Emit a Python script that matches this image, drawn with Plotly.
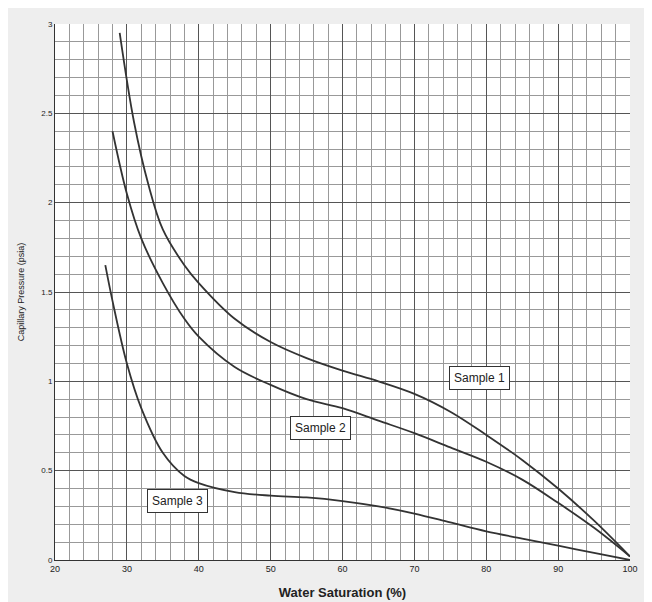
import plotly.graph_objects as go

sw1 = [29, 31, 33, 35, 38, 40, 45, 50, 55, 60, 65, 70, 75, 80, 85, 90, 95, 100]
pc1 = [2.95, 2.45, 2.1, 1.85, 1.65, 1.55, 1.35, 1.22, 1.13, 1.06, 1.0, 0.93, 0.83, 0.7, 0.56, 0.4, 0.22, 0.02]

sw2 = [28, 30, 32, 35, 38, 40, 45, 50, 55, 60, 65, 70, 75, 80, 85, 90, 95, 100]
pc2 = [2.4, 2.05, 1.8, 1.55, 1.35, 1.25, 1.08, 0.98, 0.9, 0.85, 0.78, 0.71, 0.63, 0.55, 0.45, 0.32, 0.18, 0.02]

sw3 = [27, 28, 30, 32, 35, 38, 40, 45, 50, 55, 60, 65, 70, 75, 80, 85, 90, 95, 100]
pc3 = [1.65, 1.45, 1.1, 0.85, 0.6, 0.47, 0.43, 0.38, 0.36, 0.35, 0.33, 0.3, 0.26, 0.21, 0.16, 0.12, 0.08, 0.04, 0.0]

labels = [("Sample 1", 79, 1.02), ("Sample 2", 57, 0.74), ("Sample 3", 37, 0.33)]

fig = go.Figure()
for x, y in [(sw1, pc1), (sw2, pc2), (sw3, pc3)]:
    fig.add_trace(go.Scatter(x=x, y=y, mode="lines", line=dict(color="#333", width=1.8, shape="spline"),
                             showlegend=False))

for text, x, y in labels:
    fig.add_annotation(x=x, y=y, text=text, showarrow=False, bgcolor="white",
                       bordercolor="#333", borderwidth=1, borderpad=4, font=dict(size=12, color="#222"))

fig.update_layout(
    width=652, height=602, paper_bgcolor="#eeeeee", plot_bgcolor="white",
    font=dict(family="Liberation Sans", color="#222"),
    margin=dict(l=40, r=30, t=15, b=50),
)
fig.update_xaxes(range=[20, 100], dtick=10, showgrid=True, gridcolor="#555", gridwidth=1,
                 minor=dict(dtick=2, showgrid=True, gridcolor="#999", gridwidth=0.6),
                 zeroline=False, showline=True, linecolor="#333", ticks="",
                 title=dict(text="<b>Water Saturation (%)</b>", font=dict(size=13)), tickfont=dict(size=9))
fig.update_yaxes(range=[0, 3], dtick=0.5, showgrid=True, gridcolor="#555", gridwidth=1,
                 minor=dict(dtick=0.1, showgrid=True, gridcolor="#999", gridwidth=0.6),
                 zeroline=False, showline=True, linecolor="#333", ticks="",
                 title=dict(text="Capillary Pressure (psia)", font=dict(size=9)), tickfont=dict(size=8))

fig.write_html("out.html")
